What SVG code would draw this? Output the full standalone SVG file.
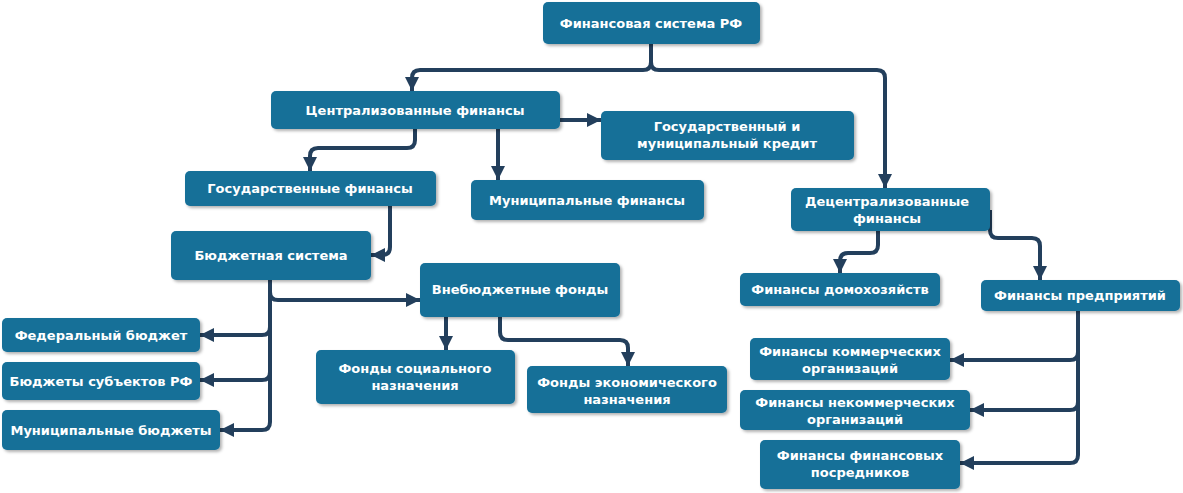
<svg xmlns="http://www.w3.org/2000/svg" width="1183" height="493" viewBox="0 0 1183 493">
<defs>
<marker id="ah" markerUnits="userSpaceOnUse" markerWidth="16" markerHeight="16" refX="14" refY="8" orient="auto" viewBox="0 0 16 16"><path d="M0,1 L14,8 L0,15 z" fill="#233f5c"/></marker>
<filter id="sh" x="-10%" y="-10%" width="125%" height="135%"><feDropShadow dx="2" dy="2" stdDeviation="1.5" flood-color="#000" flood-opacity="0.3"/></filter>
<style>
.n rect{fill:#156f98;filter:url(#sh)}
.n text{fill:#fff;font-family:"DejaVu Sans",Verdana,sans-serif;font-weight:bold;font-size:13px;text-anchor:middle}
#c path{fill:none;stroke:#233f5c;stroke-width:4;stroke-linejoin:round;marker-end:url(#ah)}
#c path.nm{marker-end:none}
</style>
</defs>
<rect width="1183" height="493" fill="#fff"/>
<g id="c">
<path d="M651,44 V62 Q651,70 643,70 H420 Q412,70 412,78 V91"/>
<path d="M651,62 Q651,70 659,70 H877 Q885,70 885,78 V188"/>
<path d="M560,120 H601"/>
<path d="M415,129 V140 Q415,148 407,148 H318 Q310,148 310,156 V171"/>
<path d="M498,129 V180"/>
<path d="M390,206 V247 Q390,255 382,255 H371"/>
<path d="M270,280 V292 Q270,300 278,300 H420"/>
<path d="M270,292 V327 Q270,335 262,335 H200"/>
<path d="M270,327 V372 Q270,380 262,380 H200"/>
<path d="M270,372 V422 Q270,430 262,430 H220"/>
<path d="M446,317 V350"/>
<path d="M500,317 V332 Q500,340 508,340 H620 Q628,340 628,348 V366"/>
<path d="M878,231 V245 Q878,253 870,253 H848 Q840,253 840,261 V273"/>
<path d="M990,210 V230 Q990,238 998,238 H1032 Q1040,238 1040,246 V280"/>
<path d="M1078,311 V352 Q1078,360 1070,360 H950"/>
<path d="M1078,352 V402 Q1078,410 1070,410 H970"/>
<path d="M1078,402 V455 Q1078,463 1070,463 H960"/>
</g>
<g id="n1" class="n"><rect x="543" y="2" width="217" height="42" rx="5"/><text x="651" y="28">Финансовая система РФ</text></g>
<g id="n2" class="n"><rect x="271" y="91" width="289" height="38" rx="5"/><text x="415" y="115">Централизованные финансы</text></g>
<g id="n3" class="n"><rect x="601" y="111" width="253" height="49" rx="5"/><text x="727" y="131">Государственный и</text><text x="727" y="148">муниципальный кредит</text></g>
<g id="n4" class="n"><rect x="185" y="171" width="251" height="35" rx="5"/><text x="310" y="193">Государственные финансы</text></g>
<g id="n5" class="n"><rect x="471" y="180" width="233" height="40" rx="5"/><text x="587" y="205">Муниципальные финансы</text></g>
<g id="n6" class="n"><rect x="171" y="231" width="200" height="49" rx="5"/><text x="271" y="260">Бюджетная система</text></g>
<g id="n7" class="n"><rect x="791" y="188" width="199" height="43" rx="5"/><text x="887" y="206">Децентрализованные</text><text x="887" y="223">финансы</text></g>
<g id="n8" class="n"><rect x="420" y="263" width="200" height="54" rx="5"/><text x="520" y="294">Внебюджетные фонды</text></g>
<g id="n9" class="n"><rect x="740" y="273" width="200" height="33" rx="5"/><text x="840" y="294">Финансы домохозяйств</text></g>
<g id="n10" class="n"><rect x="981" y="280" width="199" height="31" rx="5"/><text x="1080" y="300">Финансы предприятий</text></g>
<g id="n11" class="n"><rect x="2" y="318" width="198" height="34" rx="5"/><text x="101" y="340">Федеральный бюджет</text></g>
<g id="n12" class="n"><rect x="2" y="362" width="198" height="38" rx="5"/><text x="101" y="386">Бюджеты субъектов РФ</text></g>
<g id="n13" class="n"><rect x="2" y="410" width="218" height="40" rx="5"/><text x="111" y="435">Муниципальные бюджеты</text></g>
<g id="n14" class="n"><rect x="316" y="350" width="199" height="54" rx="5"/><text x="415" y="373">Фонды социального</text><text x="415" y="390">назначения</text></g>
<g id="n15" class="n"><rect x="527" y="366" width="200" height="47" rx="5"/><text x="627" y="387">Фонды экономического</text><text x="627" y="404">назначения</text></g>
<g id="n16" class="n"><rect x="750" y="338" width="200" height="42" rx="5"/><text x="850" y="356">Финансы коммерческих</text><text x="850" y="373">организаций</text></g>
<g id="n17" class="n"><rect x="740" y="390" width="230" height="40" rx="5"/><text x="855" y="407">Финансы некоммерческих</text><text x="855" y="424">организаций</text></g>
<g id="n18" class="n"><rect x="760" y="440" width="200" height="49" rx="5"/><text x="860" y="460">Финансы финансовых</text><text x="860" y="477">посредников</text></g>
</svg>
